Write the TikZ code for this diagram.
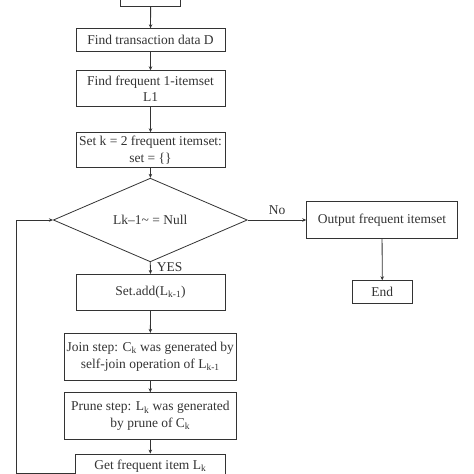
\documentclass[tikz,border=0pt]{standalone}
\usepackage{fontspec}
\setmainfont{Liberation Serif}
\usetikzlibrary{shapes.geometric,arrows.meta}
\definecolor{ink}{gray}{0.2}
\begin{document}
\begin{tikzpicture}[x=1pt,y=-1pt,
  box/.style={draw=ink,line width=0.8pt,rectangle,inner sep=1pt,align=center,text=ink,font=\fontsize{13.5}{16.7}\selectfont},
  cond/.style={draw=ink,line width=0.8pt,diamond,inner sep=0pt,text=ink,font=\fontsize{13.5}{16.7}\selectfont},
  lbl/.style={text=ink,inner sep=0pt,font=\fontsize{13.5}{16.7}\selectfont},
  flow/.style={draw=ink,line width=0.8pt,-{Stealth[length=4pt,width=3.5pt]}}]
\useasboundingbox (0,0) rectangle (474,474);
\clip (0,0) rectangle (474,474);
\node[box,minimum width=60pt,minimum height=22.6pt] (start) at (150.7,-5.3) {};
\node[box,minimum width=149pt,minimum height=22.6pt] (data) at (150.5,40) {Find transaction data D};
\node[box,minimum width=149pt,minimum height=36pt] (l1) at (150.5,88.7) {Find frequent 1-itemset\\L1};
\node[box,minimum width=149pt,minimum height=34.6pt] (setk) at (150.5,150) {Set k = 2 frequent itemset:\\set = \{\}};
\node[cond,minimum width=194pt,minimum height=56.6pt] (null) at (150.3,220) {Lk\textendash1\textasciitilde{} = Null};
\node[box,minimum width=150.6pt,minimum height=36.6pt] (out) at (382,220) {Output frequent itemset};
\node[box,minimum width=60.7pt,minimum height=22.6pt] (end) at (382.3,292) {End};
\node[box,minimum width=149pt,minimum height=35.7pt] (add) at (150.5,292.2) {Set.add(L\textsubscript{k-1})};
\node[box,minimum width=172.7pt,minimum height=47pt] (join) at (150.3,356.8) {Join step: C\textsubscript{k} was generated by\\self-join operation of L\textsubscript{k-1}};
\node[box,minimum width=172.7pt,minimum height=46.6pt] (prune) at (150.3,416) {Prune step: L\textsubscript{k} was generated\\by prune of C\textsubscript{k}};
\node[box,minimum width=150pt,minimum height=38pt] (get) at (150.3,473) {Get frequent item L\textsubscript{k}\\\phantom{X}};
\coordinate (c1) at (16.7,473);
\coordinate (c2) at (16.7,220);
\draw[flow] (start) -- (data);
\draw[flow] (data) -- (l1);
\draw[flow] (l1) -- (setk);
\draw[flow] (setk) -- (null);
\draw[flow] (null.east) -- node[lbl,above=5pt,pos=0.5] {No} (out.west);
\draw[flow] (out) -- (end);
\draw[flow] (null.south) -- node[lbl,right=6pt,pos=0.45] {YES} (add.north);
\draw[flow] (add) -- (join);
\draw[flow] (join) -- (prune);
\draw[flow] (prune) -- (get);
\draw[flow] (get.west) -- (c1) -- (c2) -- (null.west);
\end{tikzpicture}
\end{document}
